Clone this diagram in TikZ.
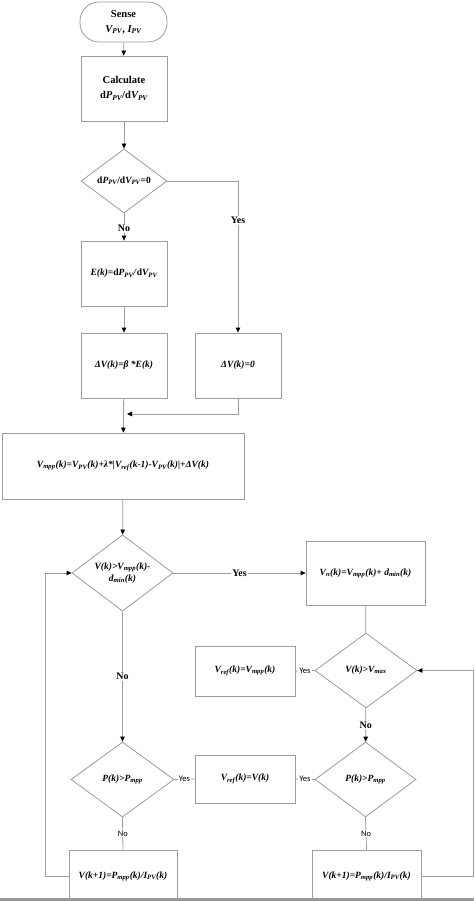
\documentclass[tikz,border=0pt]{standalone}
\usepackage{fontspec}
\setmainfont{Liberation Serif}
\newfontfamily\lblsans{Carlito}
\usetikzlibrary{shapes.geometric,arrows.meta}
\newcommand{\mysb}[1]{\textsubscript{#1}}
\definecolor{lnc}{HTML}{9C9C9C}
\tikzset{
  base/.style={draw=lnc,line width=0.8pt,inner sep=1pt,align=center,font=\fontsize{9.5}{11}\selectfont\bfseries\itshape},
  boxn/.style={base,rectangle},
  dia/.style={base,diamond,inner sep=0pt},
  term/.style={base,rectangle,rounded corners=19pt,font=\fontsize{10.5}{15}\selectfont\bfseries},
  conn/.style={draw=lnc,line width=0.8pt},
  arr/.style={conn,-{Triangle[length=5pt,width=4.5pt,color=black]}},
  lblb/.style={fill=white,inner sep=1pt,font=\fontsize{10}{12}\selectfont\bfseries},
  lbls/.style={fill=white,inner sep=1pt,font=\fontsize{8.5}{10}\selectfont\lblsans},
}
\begin{document}
\begin{tikzpicture}[x=1pt,y=-1pt]
\clip (0,0) rectangle (474,901);
\fill[white] (0,0) rectangle (474,901);
% nodes
\node[term,minimum width=87pt,minimum height=40pt] (sense) at (123.5,22) {Sense\\ \textit{V\mysb{PV}}, \textit{I\mysb{PV}}};
\node[boxn,minimum width=86pt,minimum height=65pt,font=\fontsize{10.5}{15}\selectfont\bfseries] (calc) at (124,88.5) {Calculate\\ d\textit{P\mysb{PV}}/d\textit{V\mysb{PV}}};
\node[dia,minimum width=86pt,minimum height=64pt,font=\fontsize{9.5}{11}\selectfont\bfseries] (d1) at (124,181) {d\textit{P\mysb{PV}}/d\textit{V\mysb{PV}}=0};
\node[boxn,minimum width=86pt,minimum height=65pt] (E) at (124,273.5) {\textit{E}(\textit{k})=\textup{d}\textit{P\mysb{PV}}/\textup{d}\textit{V\mysb{PV}}};
\node[boxn,minimum width=86pt,minimum height=65pt] (dv1) at (124,365.5) {ΔV(k)=β *E(k)};
\node[boxn,minimum width=86pt,minimum height=65pt] (dv0) at (238,365.5) {ΔV(k)=0};
\node[boxn,minimum width=242pt,minimum height=66pt] (vmpp) at (123,466) {V\mysb{mpp}(k)=V\mysb{PV}(k)+λ*|V\mysb{ref}(k-1)-V\mysb{PV}(k)|+ΔV(k)};
\node[dia,minimum width=101pt,minimum height=75pt,font=\fontsize{9.5}{12}\selectfont\bfseries\itshape] (d2) at (122.5,573) {V(k)>V\mysb{mpp}(k)-\\ d\mysb{min}(k)};
\node[boxn,minimum width=119pt,minimum height=64pt] (vn) at (365.5,573) {V\mysb{n}(k)=V\mysb{mpp}(k)+ d\mysb{min}(k)};
\node[dia,minimum width=102pt,minimum height=75pt] (d3) at (366,670.5) {V(k)>V\mysb{max}};
\node[boxn,minimum width=100pt,minimum height=50pt] (vr1) at (245,671) {V\mysb{ref}(k)=V\mysb{mpp}(k)};
\node[dia,minimum width=101pt,minimum height=75pt] (d4) at (365.5,779.5) {P(k)>P\mysb{mpp}};
\node[dia,minimum width=103pt,minimum height=75pt] (d5) at (122.5,779.5) {P(k)>P\mysb{mpp}};
\node[boxn,minimum width=100pt,minimum height=48pt] (vr2) at (245,779) {V\mysb{ref}(k)=V(k)};
\node[boxn,minimum width=108pt,minimum height=52pt] (b1) at (123,876) {V(k+1)=P\mysb{mpp}(k)/I\mysb{PV}(k)};
\node[boxn,minimum width=109pt,minimum height=52pt] (b2) at (366.5,876) {V(k+1)=P\mysb{mpp}(k)/I\mysb{PV}(k)};
\coordinate (m) at (124,414);
% connectors
\draw[arr] (sense) -- (calc);
\draw[arr] (calc) -- (d1);
\draw[arr] (d1) -- node[lblb,pos=0.55]{No} (E);
\draw[arr] (d1.east) -| node[lblb,pos=0.63]{Yes} (dv0.north);
\draw[arr] (E) -- (dv1);
\draw[arr] (dv1) -- (vmpp);
\draw[arr] (dv0.south) |- ([xshift=3pt]m);
\draw[arr] (vmpp) -- (d2);
\draw[arr] (d2.east) -- node[lblb,pos=0.5]{Yes} (vn.west);
\draw[conn] (vn) -- (d3);
\draw[conn] (d3.west) -- node[lbls,pos=0.5]{Yes} (vr1.east);
\draw[arr] (d3) -- node[lblb,pos=0.5]{No} (d4);
\draw[arr] (d2) -- node[lblb,pos=0.5]{No} (d5);
\draw[conn] (d5.east) -- node[lbls,pos=0.5]{Yes} (vr2.west);
\draw[conn] (d4.west) -- node[lbls,pos=0.5]{Yes} (vr2.east);
\draw[conn] (d5.south) -- node[lbls,pos=0.5]{No} (b1.north);
\draw[conn] (d4.south) -- node[lbls,pos=0.5]{No} (b2.north);
\draw[arr] (b1.west) -- ++(-23,0) |- (d2.west);
\draw[arr] (b2.east) -- ++(52,0) |- (d3.east);
\fill[black!40] (0,898) rectangle (474,901);
\end{tikzpicture}
\end{document}
